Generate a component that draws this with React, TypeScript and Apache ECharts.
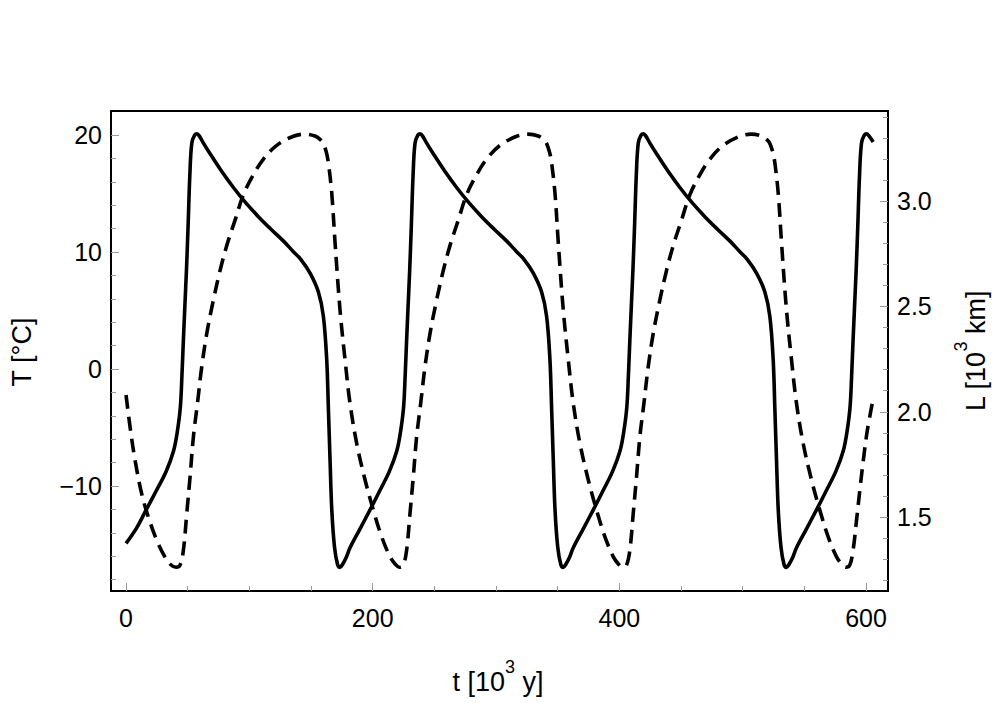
import React, { useEffect, useRef } from "react";
import * as echarts from "echarts";

// ---- data ----
// Temperature T [°C] (solid line)
const T_TIME = [
  0, 8.5, 16.5, 24.5, 32.5, 38.5, 41.5, 44, 45.3, 46.5, 47.7, 49, 50.3, 51.7, 53.3, 55.7, 57.5,
  59.5, 62.5, 67.5, 77.5, 87.5, 97.5, 107.5, 117.5, 127.5, 135.5, 141.5, 149.2, 155.9, 160, 162.7, 164.1, 165.4, 166.8, 169, 171.5, 173.5, 175.5,
  178.5, 181.5, 189.5, 197.5, 205.5, 213.5, 219.5, 222.5, 225, 226.3, 227.5, 228.7, 230, 231.3, 232.7, 234.3, 236.7, 238.5,
  240.5, 243.5, 248.5, 258.5, 268.5, 278.5, 288.5, 298.5, 308.5, 316.5, 322.5, 330.2, 336.9, 341, 343.7, 345.1, 346.4, 347.8, 350, 352.5, 354.5, 356.5,
  359.5, 362.5, 370.5, 378.5, 386.5, 394.5, 400.5, 403.5, 406, 407.3, 408.5, 409.7, 411, 412.3, 413.7, 415.3, 417.7, 419.5,
  421.5, 424.5, 429.5, 439.5, 449.5, 459.5, 469.5, 479.5, 489.5, 497.5, 503.5, 511.2, 517.9, 522, 524.7, 526.1, 527.4, 528.8, 531, 533.5, 535.5, 537.5,
  540.5, 543.5, 551.5, 559.5, 567.5, 575.5, 581.5, 584.5, 587, 588.3, 589.5, 590.7, 592, 593.3, 594.7, 596.3, 598.7, 600.5, 602.5, 605.8,
];
const T_VALUE = [
  -14.9, -13.6, -12.0, -10.4, -8.75, -7.0, -5.4, -3.3, -0.6, 2.5, 5.4, 8.5, 12.2, 16.5, 19.3, 20.0, 20.1,
  19.9, 19.35, 18.5, 16.9, 15.45, 14.15, 13.0, 11.95, 10.95, 10.05, 9.4, 8.2, 6.6, 4.5, 0.8, -3.5, -7.75, -12.0, -15.2, -16.7, -16.95, -16.7,
  -16.1, -15.3, -13.7, -12.1, -10.45, -8.75, -7.0, -5.4, -3.3, -0.6, 2.5, 5.4, 8.5, 12.2, 16.5, 19.3, 20.0, 20.1,
  19.9, 19.35, 18.5, 16.9, 15.45, 14.15, 13.0, 11.95, 10.95, 10.05, 9.4, 8.2, 6.6, 4.5, 0.8, -3.5, -7.75, -12.0, -15.2, -16.7, -16.95, -16.7,
  -16.1, -15.3, -13.7, -12.1, -10.45, -8.75, -7.0, -5.4, -3.3, -0.6, 2.5, 5.4, 8.5, 12.2, 16.5, 19.3, 20.0, 20.1,
  19.9, 19.35, 18.5, 16.9, 15.45, 14.15, 13.0, 11.95, 10.95, 10.05, 9.4, 8.2, 6.6, 4.5, 0.8, -3.5, -7.75, -12.0, -15.2, -16.7, -16.95, -16.7,
  -16.1, -15.3, -13.7, -12.1, -10.45, -8.75, -7.0, -5.4, -3.3, -0.6, 2.5, 5.4, 8.5, 12.2, 16.5, 19.3, 20.0, 20.1, 19.9, 19.4,
];

// Length L [10^3 km] (dashed line)
const L_TIME = [
  0, 3.2, 7.3, 12.7, 18.1, 24.9, 31.6, 36, 40.5,
  43.8, 46.5, 49.2, 51.9, 54.6, 57.9, 61.3, 65.4, 70.8, 76.2, 81.7, 88.4, 95.1, 103.2, 111.4, 122.2, 135.7, 145, 153.2,
  158, 160, 162.5, 164.1, 166.8, 169.5, 173.5, 177.6, 181.6, 187, 193.8, 200.5, 207.3, 214.1, 218.5, 221.5,
  224.8, 227.5, 230.2, 232.9, 235.6, 238.9, 242.3, 246.4, 251.8, 257.2, 262.7, 269.4, 276.1, 284.2, 292.4, 303.2, 316.7, 326, 334.2,
  339, 341, 343.5, 345.1, 347.8, 350.5, 354.5, 358.6, 362.6, 368, 374.8, 381.5, 388.3, 395.1, 399.5, 402.5,
  405.8, 408.5, 411.2, 413.9, 416.6, 419.9, 423.3, 427.4, 432.8, 438.2, 443.7, 450.4, 457.1, 465.2, 473.4, 484.2, 497.7, 507, 515.2,
  520, 522, 524.5, 526.1, 528.8, 531.5, 535.5, 539.6, 543.6, 549, 555.8, 562.5, 569.3, 576.1, 580.5, 583.5,
  586.8, 589.5, 592.2, 595, 598, 601, 606,
];
const L_VALUE = [
  2.08, 1.93, 1.77, 1.61, 1.5, 1.39, 1.31, 1.275, 1.262,
  1.272, 1.343, 1.515, 1.691, 1.881, 2.04, 2.21, 2.37, 2.53, 2.67, 2.79, 2.91, 3.03, 3.125, 3.2, 3.265, 3.308, 3.318, 3.309,
  3.29, 3.274, 3.23, 3.18, 3.037, 2.8, 2.483, 2.245, 2.04, 1.85, 1.676, 1.533, 1.406, 1.311, 1.275, 1.262,
  1.272, 1.343, 1.515, 1.691, 1.881, 2.04, 2.21, 2.37, 2.53, 2.67, 2.79, 2.91, 3.03, 3.125, 3.2, 3.265, 3.308, 3.318, 3.309,
  3.29, 3.274, 3.23, 3.18, 3.037, 2.8, 2.483, 2.245, 2.04, 1.85, 1.676, 1.533, 1.406, 1.311, 1.275, 1.262,
  1.272, 1.343, 1.515, 1.691, 1.881, 2.04, 2.21, 2.37, 2.53, 2.67, 2.79, 2.91, 3.03, 3.125, 3.2, 3.265, 3.308, 3.318, 3.309,
  3.29, 3.274, 3.23, 3.18, 3.037, 2.8, 2.483, 2.245, 2.04, 1.85, 1.676, 1.533, 1.406, 1.311, 1.275, 1.262,
  1.272, 1.343, 1.48, 1.63, 1.78, 1.91, 2.07,
];

const X_MAJOR = [0, 200, 400, 600];
const X_MINOR = [50, 100, 150, 250, 300, 350, 450, 500, 550];
const T_MAJOR = [-10, 0, 10, 20];
const T_MINOR = [-18, -16, -14, -12, -8, -6, -4, -2, 2, 4, 6, 8, 12, 14, 16, 18];
const L_MAJOR = [1.5, 2.0, 2.5, 3.0];
const L_MINOR = [1.2, 1.3, 1.4, 1.6, 1.7, 1.8, 1.9, 2.1, 2.2, 2.3, 2.4, 2.6, 2.7, 2.8, 2.9, 3.1, 3.2, 3.3, 3.4];

const X_MIN = -12.2, X_MAX = 617.8;
const T_MIN = -18.97, T_MAX = 22.05;
const L_MIN = 1.149, L_MAX = 3.428;

const FONT = "Liberation Sans";
const TICK_COLOR = "#9a9a9a";

export default function App() {
  const ref = useRef<HTMLDivElement>(null);
  useEffect(() => {
    if (!ref.current) return;
    const chart = echarts.init(ref.current, null, { renderer: "svg" });
    const labelStyle = { color: "#000", fontFamily: FONT, fontSize: 25 };
    const minus = (v: number) => (v < 0 ? "\u2212" + Math.abs(v) : String(v));
    const noLine = { show: false, onZero: false };
    const xAxisBase = {
      type: "value" as const, min: X_MIN, max: X_MAX, position: "bottom" as const,
      axisLine: noLine, splitLine: { show: false },
    };
    const tAxisBase = {
      type: "value" as const, min: T_MIN, max: T_MAX, position: "left" as const,
      axisLine: noLine, splitLine: { show: false },
    };
    const lAxisBase = {
      type: "value" as const, min: L_MIN, max: L_MAX, position: "right" as const,
      axisLine: noLine, splitLine: { show: false },
    };
    const major = { inside: true, length: 8, lineStyle: { color: TICK_COLOR, width: 1 } };
    const minor = { inside: true, length: 5, lineStyle: { color: TICK_COLOR, width: 1 } };
    const supStyle = { fontFamily: FONT, fontSize: 18, fill: "#000", padding: [0, 0, 30, 0] };
    chart.setOption({
      animation: false,
      backgroundColor: "#fff",
      grid: {
        left: 111, right: 112, top: 111, bottom: 112,
        show: true, borderColor: "#000", borderWidth: 2, backgroundColor: "transparent",
        containLabel: false, outerBoundsMode: "none",
      },
      xAxis: [
        { ...xAxisBase, axisLabel: { ...labelStyle, margin: 14, customValues: X_MAJOR }, axisTick: { ...major, customValues: X_MAJOR } },
        { ...xAxisBase, axisLabel: { show: false }, axisTick: { ...minor, customValues: X_MINOR } },
      ],
      yAxis: [
        {
          ...tAxisBase,
          axisLabel: { ...labelStyle, margin: 9, customValues: T_MAJOR, formatter: (v: number) => minus(v) },
          axisTick: { ...major, customValues: T_MAJOR },
        },
        { ...tAxisBase, axisLabel: { show: false }, axisTick: { ...minor, customValues: T_MINOR } },
        {
          ...lAxisBase,
          axisLabel: { ...labelStyle, margin: 9, customValues: L_MAJOR, formatter: (v: number) => v.toFixed(1) },
          axisTick: { ...major, customValues: L_MAJOR },
        },
        { ...lAxisBase, axisLabel: { show: false }, axisTick: { ...minor, customValues: L_MINOR } },
      ],
      series: [
        {
          type: "line", name: "T", xAxisIndex: 0, yAxisIndex: 0,
          data: T_TIME.map((t, i) => [t, T_VALUE[i]]),
          showSymbol: false, smooth: 0.35,
          lineStyle: { color: "#000", width: 3.6, cap: "butt", join: "round" },
          z: 3,
        },
        {
          type: "line", name: "L", xAxisIndex: 0, yAxisIndex: 2,
          data: L_TIME.map((t, i) => [t, L_VALUE[i]]),
          showSymbol: false, smooth: 0.35,
          lineStyle: { color: "#000", width: 3.6, type: [14, 8], join: "round" },
          z: 3,
        },
      ],
      graphic: [
        {
          type: "text", x: 498, y: 682,
          style: {
            text: "t [10{sup|3} y]", fill: "#000", fontFamily: FONT, fontSize: 27,
            align: "center", verticalAlign: "middle", rich: { sup: supStyle },
          },
        },
        {
          type: "text", x: 22, y: 352, rotation: Math.PI / 2,
          style: {
            text: "T [°C]", fill: "#000", fontFamily: FONT, fontSize: 27,
            align: "center", verticalAlign: "middle",
          },
        },
        {
          type: "text", x: 976, y: 351, rotation: Math.PI / 2,
          style: {
            text: "L [10{sup|3} km]", fill: "#000", fontFamily: FONT, fontSize: 27,
            align: "center", verticalAlign: "middle", rich: { sup: supStyle },
          },
        },
      ],
    });
    return () => chart.dispose();
  }, []);
  return <div ref={ref} style={{ width: 1000, height: 703, position: "absolute", left: 0, top: 0 }} />;
}
